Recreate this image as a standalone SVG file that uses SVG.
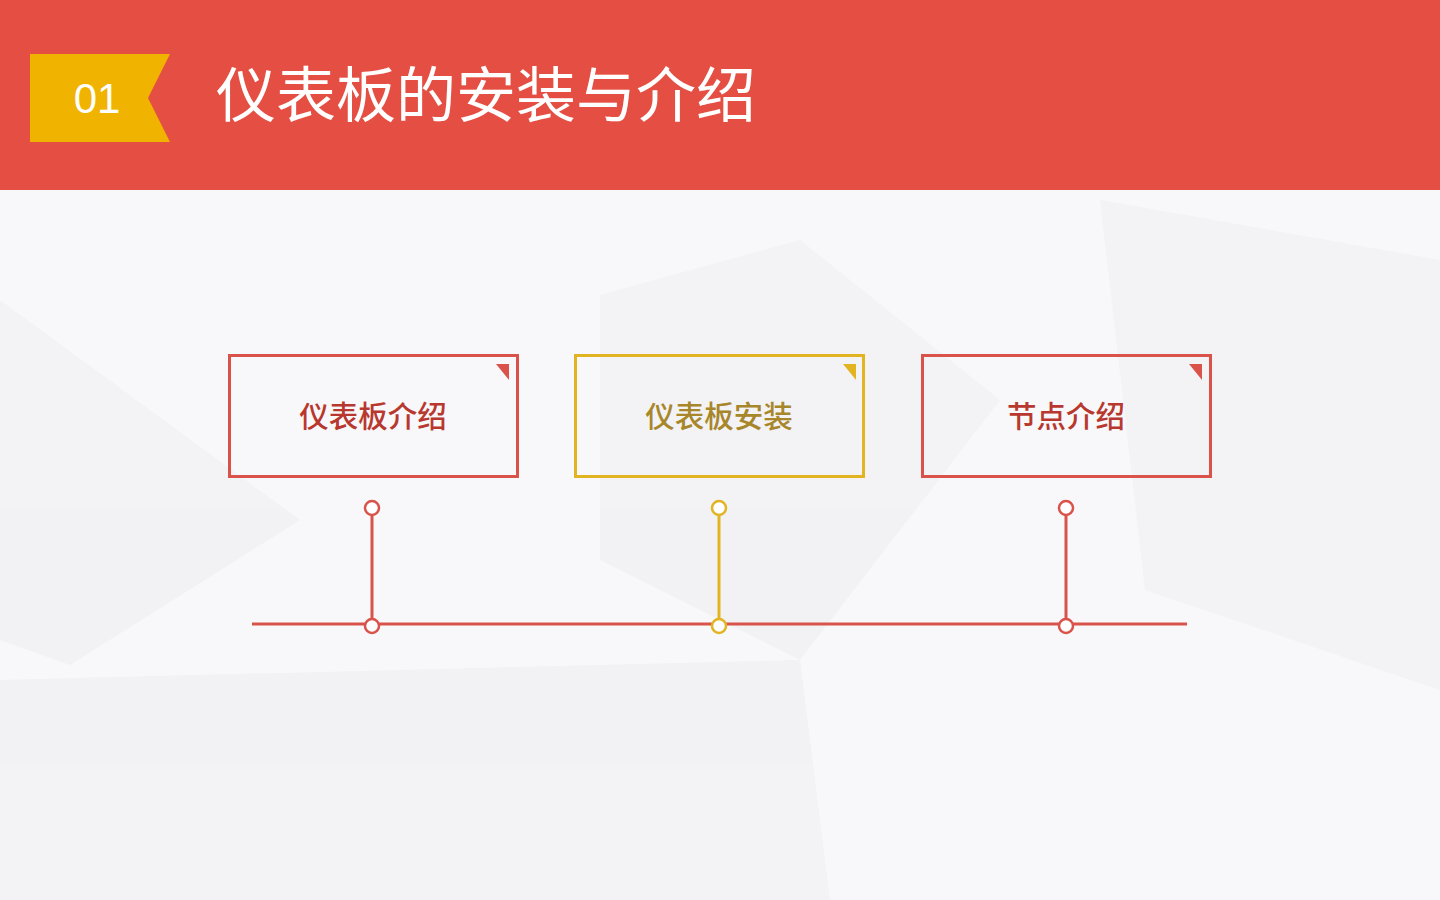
<svg xmlns="http://www.w3.org/2000/svg" width="1440" height="900" viewBox="0 0 1440 900">
<style>
.r{stroke:#d9534a;fill:none;stroke-width:3}
.y{stroke:#e2b422;fill:none;stroke-width:3}
.t{font-family:"Noto Sans CJK SC",sans-serif;font-size:29.5px;font-weight:500;text-anchor:middle}
.dr{fill:#fff;stroke:#d9534a;stroke-width:2.5}
.dy{fill:#fff;stroke:#e2b422;stroke-width:2.5}
</style>
<rect width="1440" height="900" fill="#f8f8fa"/>
<g fill="#f1f1f4" opacity="0.8">
<polygon points="0,300 300,520 70,665 0,640"/>
<polygon points="600,295 800,240 1000,400 800,660 600,560"/>
<polygon points="1100,200 1440,260 1440,690 1145,590"/>
<polygon points="0,680 800,660 830,900 0,900"/>
</g>
<rect width="1440" height="190" fill="#e54e42"/>
<polygon points="30,54 170,54 148,98 170,142 30,142" fill="#f0b400"/>
<text x="97" y="113" font-family="Liberation Sans,sans-serif" font-size="42" fill="#fff" text-anchor="middle">01</text>
<text x="216" y="117" font-family="Noto Sans CJK SC,sans-serif" font-size="60" fill="#fff">仪表板的安装与介绍</text>
<g id="connectors">
<line x1="252" y1="624" x2="1187" y2="624" class="r" stroke-width="3"/>
<line x1="372" y1="515" x2="372" y2="619" class="r" stroke-width="2.5"/>
<line x1="719" y1="515" x2="719" y2="619" class="y" stroke-width="2.5"/>
<line x1="1066" y1="515" x2="1066" y2="619" class="r" stroke-width="2.5"/>
<circle cx="372" cy="508" r="7" class="dr"/><circle cx="372" cy="626" r="7" class="dr"/>
<circle cx="719" cy="508" r="7" class="dy"/><circle cx="719" cy="626" r="7" class="dy"/>
<circle cx="1066" cy="508" r="7" class="dr"/><circle cx="1066" cy="626" r="7" class="dr"/>
</g>
<g id="n1"><rect x="229.5" y="355.5" width="288" height="121" class="r"/><polygon points="496,364 509,364 509,380" fill="#d9534a"/><text x="373" y="427" class="t" fill="#b8382f">仪表板介绍</text></g>
<g id="n2"><rect x="575.5" y="355.5" width="288" height="121" class="y"/><polygon points="843,364 856,364 856,380" fill="#e2b422"/><text x="719" y="427" class="t" fill="#a8862a">仪表板安装</text></g>
<g id="n3"><rect x="922.5" y="355.5" width="288" height="121" class="r"/><polygon points="1189,364 1202,364 1202,380" fill="#d9534a"/><text x="1066" y="427" class="t" fill="#b8382f">节点介绍</text></g>
</svg>
